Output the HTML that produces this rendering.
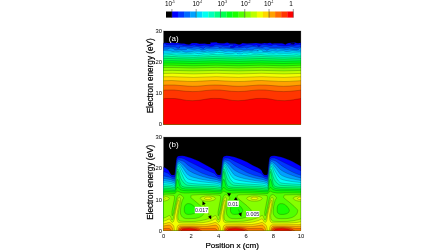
<!DOCTYPE html>
<html><head><meta charset="utf-8"><title>Electron energy distribution</title>
<style>
html,body{margin:0;padding:0;background:#fff;}
body{width:448px;height:252px;overflow:hidden;}
svg{display:block;font-family:"Liberation Sans",sans-serif;}
</style></head><body>
<svg width="448" height="252" viewBox="0 0 448 252">
<rect width="448" height="252" fill="#fff"/>
<rect x="166.0" y="11.5" width="6.00" height="6.1" fill="#000"/>
<rect x="171.90" y="11.5" width="6.17" height="6.1" fill="#0000ff"/>
<rect x="177.97" y="11.5" width="6.17" height="6.1" fill="#0036ff"/>
<rect x="184.04" y="11.5" width="6.17" height="6.1" fill="#006bff"/>
<rect x="190.11" y="11.5" width="6.17" height="6.1" fill="#00a1ff"/>
<rect x="196.18" y="11.5" width="6.17" height="6.1" fill="#00d7ff"/>
<rect x="202.25" y="11.5" width="6.17" height="6.1" fill="#00fff2"/>
<rect x="208.32" y="11.5" width="6.17" height="6.1" fill="#00ffbc"/>
<rect x="214.39" y="11.5" width="6.17" height="6.1" fill="#00ff86"/>
<rect x="220.46" y="11.5" width="6.17" height="6.1" fill="#00ff51"/>
<rect x="226.53" y="11.5" width="6.17" height="6.1" fill="#00ff1b"/>
<rect x="232.60" y="11.5" width="6.17" height="6.1" fill="#1bff00"/>
<rect x="238.67" y="11.5" width="6.17" height="6.1" fill="#51ff00"/>
<rect x="244.74" y="11.5" width="6.17" height="6.1" fill="#86ff00"/>
<rect x="250.81" y="11.5" width="6.17" height="6.1" fill="#bcff00"/>
<rect x="256.88" y="11.5" width="6.17" height="6.1" fill="#f2ff00"/>
<rect x="262.95" y="11.5" width="6.17" height="6.1" fill="#ffd700"/>
<rect x="269.02" y="11.5" width="6.17" height="6.1" fill="#ffa100"/>
<rect x="275.09" y="11.5" width="6.17" height="6.1" fill="#ff6b00"/>
<rect x="281.16" y="11.5" width="6.17" height="6.1" fill="#ff3600"/>
<rect x="287.23" y="11.5" width="6.17" height="6.1" fill="#ff0000"/>
<line x1="171.90" y1="9" x2="171.90" y2="17.6" stroke="#333" stroke-width="0.5"/>
<line x1="196.18" y1="9" x2="196.18" y2="17.6" stroke="#333" stroke-width="0.5"/>
<line x1="220.46" y1="9" x2="220.46" y2="17.6" stroke="#333" stroke-width="0.5"/>
<line x1="244.74" y1="9" x2="244.74" y2="17.6" stroke="#333" stroke-width="0.5"/>
<line x1="269.02" y1="9" x2="269.02" y2="17.6" stroke="#333" stroke-width="0.5"/>
<line x1="293.30" y1="9" x2="293.30" y2="17.6" stroke="#333" stroke-width="0.5"/>
<clipPath id="ca"><rect x="163.6" y="31.0" width="137.3" height="93.3"/></clipPath>
<rect x="163.6" y="31.0" width="137.3" height="93.3" fill="#000"/>
<g clip-path="url(#ca)" stroke="rgba(0,0,0,0.55)" stroke-width="0.40" stroke-linejoin="round" fill-rule="evenodd">
<path fill="#0000ff" d="M210.7 42.5L216.1 42.2L216.6 42.3L217.8 43L220.6 43.3L224.1 43.3L227.2 42.5L230.1 43.6L235.1 43.6L237.6 44.2L239.1 44.4L241.1 44L241.6 43.5L242.6 43.1L247.1 43.5L256.1 42.9L261.1 43.5L264.6 43L267.1 43.2L270.1 42.7L272.1 43.6L274.6 43.2L279.1 43.3L281.6 43.2L283.1 43.5L285.1 44.4L285.6 44.4L286.9 43.5L288.6 43L294.6 42.5L295.1 42.5L296.6 43.1L298.1 43.3L301.6 42.7L301.6 125L162.6 125L162.6 43.1L165.6 42.8L170.1 43.2L171.6 42.5L174.1 43L178.1 42.9L181.1 43.4L184.1 43.4L186.6 44.3L188.6 44.5L190.1 44.3L190.5 44L190.6 43.5L192.1 43L196.6 43.1L199.6 43.7L204.6 43.4L207.1 44.1L209.6 44.1L210.4 44L210.5 43.5L210 43L210.6 42.6Z M291.6 43.5L291.1 43.5L290.5 44L293.1 44.3L294.6 44L294.5 43.5L293.6 43.3L292.1 43.5Z"/>
<path fill="#0036ff" d="M162.6 44L162.6 43.7L164.6 43.6L165.9 44L166.1 44.4L166.6 44.7L170.1 45L173.1 44.8L175.1 45.1L176.9 44.5L178.6 44.5L179.6 44.7L181.6 44.8L183.2 45.5L184.6 45.6L191.1 45.6L194.6 44.9L196.1 45.5L200.1 45.9L204.1 45.3L206.1 45.2L208.1 45.5L209.1 46L210.6 46.3L212.8 46L214.6 45L216.1 44.6L220.6 44.9L224.1 45.6L227.8 45.5L228.6 45.3L229.8 44.5L232.1 44.4L233.4 44.5L234.1 45L233.1 45.8L231.1 46.2L230.5 46.5L230.2 47L230.6 47.5L232.1 47.6L233.1 47.5L234.4 47L235.7 46L236.6 45.7L237.6 45.6L238.5 46L238.7 46.5L240.1 46.6L243.1 45.7L248.1 44.7L250.6 44.7L253.6 45.5L256.7 45L258.4 45.5L257.6 46L258.6 46.5L260.2 46L259.8 45.5L263.1 44.6L267.1 45L270.6 45.6L271.6 45.5L273.7 44.5L275.1 44.4L276.1 44.5L277.6 45.2L283.6 46L286.1 45.9L290.6 45.3L294.1 45.4L298.1 44.5L301.6 44.9L301.6 125L162.6 125L162.6 44.5Z"/>
<path fill="#006bff" d="M215.9 46.5L217.1 46.3L218 46.5L218.7 47L219 47.5L220.1 47.8L222.6 47.1L229.6 48.1L232.6 48.2L236.1 48L241.1 48L244.1 47.2L245.1 47.3L246.6 48.1L247.1 48L248.1 47.5L251.6 46.7L252.6 46.6L254.6 46.7L257.1 47.3L260.1 47.3L262.6 47.6L264.1 46.8L265.6 46.5L267.1 46.7L270.1 47.6L275.6 47.7L278.1 47.4L281.6 47.4L284.6 47.9L286.6 47.5L288.6 47.5L291.1 46.7L292.1 46.7L294.1 47.3L295.6 47.4L297.1 47.8L300.1 46.9L301.6 46.7L301.6 125L162.6 125L162.6 47.4L165.1 46.9L170.1 46.7L175.1 47L176.1 47.3L177.1 48L178.1 48.2L179.6 48L179.5 47.5L179 47L179.6 46.8L182.1 46.9L184.6 46.6L186.1 47.1L191.6 47.7L193.6 47.1L197.1 46.7L198.6 47L203.1 48.4L203.6 48.4L204.2 48L204.6 47.4L205.6 47L209.1 47.4L213.6 47L215.6 46.6Z"/>
<path fill="#00a1ff" d="M300 48L301.6 47.7L301.6 125L162.6 125L162.6 49.3L167.6 49.2L169.6 48.2L170.6 48L173.1 48.4L174.3 49.5L176.1 49.8L179.1 49.4L182.6 49.7L185.1 49.7L186.4 49.5L187 49L187.2 48.5L187.6 48.4L190.6 49.1L192.1 49.3L195.1 49.3L197.1 48.8L198.6 48.8L199.7 49L201.6 49.9L202.6 50L204.1 49.7L206.6 48.8L212.6 49.1L216.1 49L218.1 48.6L223.6 49L226.1 48.7L231.1 48.9L234.1 49.4L235.8 50L237.1 50.1L240.1 49.5L241.1 49.5L243.6 50.1L245.1 50.1L248.6 49.5L250.2 50L251.6 50.1L252.4 50L253.4 49.5L253.6 49L255.6 48.9L258.6 48.4L261.1 49L264.6 49.2L265.5 49.5L266.1 50.1L267.1 50.3L267.9 50L268.2 49.5L268.6 49.3L270.6 48.8L273.1 48.7L275.6 49.2L276.6 49L277.4 48.5L278.1 48.4L280.6 49L283.6 49.2L286.6 49.6L289.6 49.1L296.6 49.9L298.6 49.5L299.6 48.3Z"/>
<path fill="#00d7ff" d="M259.9 50L261.6 50.1L262.2 50.5L262.6 51.3L263.1 51.5L269.1 51.5L272.6 50.8L277.1 51.3L283.1 50.8L285.6 51.4L286.6 51.5L289.6 51.3L292.1 50.8L298.6 51.3L301.6 51.1L301.6 125L162.6 125L162.6 50.4L167.1 50.9L170.1 50.9L173.1 51.6L175.1 51.2L178.1 51.4L181.6 51L184.7 52L186.1 52.2L190.6 51.8L194.1 51.1L199.6 51.2L203.1 51.6L204.7 51.5L207.1 50.9L209.6 51.3L211.6 51.3L215.2 51L219.6 50.2L225.1 51.4L228.1 51.1L232.1 51.2L239.6 51.9L243.6 51.2L248.1 51.1L251.6 51.3L255.6 50.8L258.1 51.1L258.3 51L257.5 50.5L259.6 50Z"/>
<path fill="#00fff2" d="M216.1 52.5L217.6 52.3L220.1 52.7L222.6 52.7L225.1 53.4L230.1 53.7L232.1 53.6L234.9 53L236.1 52.9L236.6 53L237 53.5L237.6 53.7L240.1 53.9L241.6 53.8L243.6 53L247.1 53.2L250.6 52.5L253.1 53.1L254.6 53.2L266.1 52.8L268.6 53.2L271.1 53.1L273.1 53.3L276.1 52.9L278.6 53.2L286.1 53.3L290.6 53.2L293.1 52.9L299.6 53.1L301.6 52.9L301.6 125L162.6 125L162.6 53.1L165.1 53.3L169.6 53.3L173.1 53L176.6 52.9L184.1 53.4L187.6 53.3L190.6 53.4L194.6 53L198.6 53.7L205.6 52.7L211.1 53.2L214 53L215.6 52.6Z"/>
<path fill="#00ffbc" d="M213 54.5L217.1 54.8L221.6 54.7L229.1 55.2L233.6 55.2L238.6 55.7L242.6 55.4L245.6 55.5L247.6 55.1L250.1 55.1L253.1 54.7L256.6 54.8L260.6 54.5L267.6 55.2L273.6 55L277.1 55.3L280.1 55.1L284.1 55.5L293.6 55L296.6 54.7L299.6 55.1L301.6 55L301.6 125L162.6 125L162.6 54.9L166.1 55L171.6 54.5L176.1 55L180.1 54.9L185.1 55.1L191.1 55.1L197.6 55.6L199.6 55.4L203.1 54.8L208.6 55L212.6 54.5Z"/>
<path fill="#00ff86" d="M162.6 57L162.6 56.7L173.6 56.5L178.6 56.9L193.6 57.3L213.1 56.6L238.6 57.2L261.6 56.6L283.1 57.2L301.6 56.7L301.6 125L162.6 125L162.6 57.5Z"/>
<path fill="#00ff51" d="M162.6 59L162.6 58.7L168.6 58.5L192.6 59.1L215.6 58.5L239.1 59.1L261.1 58.5L284.1 59.1L301.6 58.6L301.6 125L162.6 125L162.6 59.5Z"/>
<path fill="#00ff1b" d="M162.6 61L162.6 60.9L164.1 60.8L171.6 60.7L193.6 61.3L216.1 60.7L238.6 61.3L261.6 60.7L284.1 61.3L301.6 60.8L301.6 125L162.6 125L162.6 61.5Z"/>
<path fill="#1bff00" d="M165.8 63L173.6 63L192.6 63.5L214.6 63L238.1 63.5L259.6 63L283.6 63.5L301.6 63L301.6 125L162.6 125L162.6 63.1L165.6 63Z"/>
<path fill="#51ff00" d="M162.6 65.5L162.6 65.3L171.6 65.2L193.6 65.8L216.1 65.2L238.6 65.8L261.6 65.2L284.1 65.8L301.6 65.2L301.6 125L162.6 125L162.6 66Z"/>
<path fill="#86ff00" d="M163.9 67.5L174.1 67.5L193.1 68L217.1 67.4L238.6 68L262.1 67.4L283.6 68L301.6 67.5L301.6 125L162.6 125L162.6 67.6L163.6 67.5Z"/>
<path fill="#bcff00" d="M162.6 70.5L172.6 70.4L193.1 70.9L216.6 70.4L238.6 70.9L261.6 70.4L284.1 70.9L301.6 70.4L301.6 125L162.6 125L162.6 71Z"/>
<path fill="#f2ff00" d="M162.6 73.5L172.6 73.3L193.6 73.9L216.6 73.3L238.6 73.9L261.6 73.3L284.1 73.9L301.6 73.4L301.6 125L162.6 125L162.6 74Z"/>
<path fill="#ffd700" d="M162.6 77L162.6 76.8L163.6 76.8L171.6 76.7L193.6 77.4L216.1 76.7L238.6 77.4L261.6 76.7L284.1 77.4L301.6 76.7L301.6 125L162.6 125L162.6 77.5Z"/>
<path fill="#ffa100" d="M162.6 81L162.6 80.8L163.6 80.7L171.6 80.5L187.6 81.4L193.6 81.5L210.6 80.6L216.1 80.5L233.1 81.4L238.6 81.5L244.1 81.4L256.1 80.6L261.6 80.5L278.6 81.4L284.1 81.5L289.6 81.4L301.6 80.6L301.6 125L162.6 125L162.6 81.5Z"/>
<path fill="#ff6b00" d="M166.9 85L174.1 85L187.6 86.1L192.6 86.3L197.6 86.2L209.1 85.2L214.6 85L220.1 85.1L233.1 86.1L238.1 86.3L243.1 86.2L259.1 85L265.6 85.1L278.6 86.1L283.6 86.3L289.1 86.1L301.6 85.1L301.6 125L162.6 125L162.6 85.3L166.6 85Z"/>
<path fill="#ff3600" d="M165.8 90L174.2 90L186.1 91.3L192.6 91.6L198.6 91.4L205.9 90.5L214.1 89.9L219.7 90L231.6 91.3L238.1 91.6L244.6 91.3L251.4 90.5L258.6 89.9L265.2 90L277.1 91.3L283.6 91.6L290.1 91.3L301.6 90.1L301.6 125L162.6 125L162.6 90.3L165.6 90Z"/>
<path fill="#ff0000" d="M165.3 98.5L174.7 98.5L178.7 99L186.6 100.4L192.6 100.7L199.1 100.3L206.8 99L210.8 98.5L213.6 98.4L220.2 98.5L224.2 99L232.1 100.4L238.1 100.7L244.6 100.3L246 100L248.1 99.8L249.1 99.5L256.3 98.5L261.1 98.4L265.7 98.5L269.7 99L277.6 100.4L284.6 100.7L290.1 100.3L291.5 100L293.6 99.8L294.6 99.5L301.6 98.5L301.6 125L162.6 125L162.6 98.9L165.1 98.5Z"/>
</g>
<rect x="163.6" y="31.0" width="137.3" height="93.3" fill="none" stroke="rgba(0,0,0,0.45)" stroke-width="0.5"/>
<clipPath id="cb"><rect x="163.6" y="137.1" width="137.3" height="93.4"/></clipPath>
<rect x="163.6" y="137.1" width="137.3" height="93.4" fill="#000"/>
<g clip-path="url(#cb)" stroke="rgba(0,0,0,0.55)" stroke-width="0.40" stroke-linejoin="round" fill-rule="evenodd">
<path fill="#0000ff" d="M178.8 156.1L182.1 155.8L184.5 156.1L191.2 158.1L198.6 161.1L213.6 169.2L214.6 170L216.1 172.9L217.1 174.3L217.6 174.8L218.6 175.1L220.1 175.1L220.6 174.6L220.7 174.1L221.3 170.6L222.1 161.8L222.6 158.5L223.1 157.3L224.1 156.3L226.6 155.8L229.6 155.9L234.5 157.1L241.5 159.6L247.1 162.1L253.1 165.5L257.5 167.6L260.1 169.1L261.1 169.9L261.6 170.6L262.6 172.7L263.6 174.2L264.1 174.7L265.1 175.1L266.6 175.1L267.1 174.8L267.6 173.5L269.1 159.5L269.6 157.7L270.1 156.9L270.6 156.4L271.6 156.1L274.1 155.8L276.1 155.9L281.1 157.1L284.1 158.1L289.3 160.1L292.6 161.6L301.6 166.5L301.6 231.1L162.6 231.1L162.6 166.6L165.7 168.1L168.1 169.7L168.6 170.2L170.4 173.6L171.6 174.9L172.6 175.1L174.1 175L174.6 174.4L174.9 172.6L176.1 160.9L176.6 158.1L177.6 156.6L178.6 156.1Z"/>
<path fill="#0036ff" d="M178.4 158.1L179.6 158L181.6 158.1L184.1 158.8L188.6 161.3L205.1 169.4L214.1 173.2L215.1 174L216.1 175.2L217.6 176.4L219.6 177L220.1 177L220.6 176.6L221.1 174.9L222.6 161.1L223.6 158.8L224.1 158.3L225.1 158L228.1 158.1L230.1 158.7L234.6 161.2L251.6 169.5L260.6 173.2L261.6 173.8L262.7 175.1L264.1 176.3L266.1 177L266.6 177.1L267.1 176.8L267.6 175.8L268.1 172.8L269.1 162.2L269.6 160.1L270.6 158.4L271.6 158L274.6 158.1L276.6 158.7L285.6 163.3L298.4 169.6L301.6 170.9L301.6 231.1L162.6 231.1L162.6 171.1L168.1 173.3L169.1 174.1L170.4 175.6L171.6 176.5L173.1 177L174.1 177L174.6 176.4L175.1 174.3L176.1 163.8L176.6 160.6L177.3 159.1L178.1 158.2Z"/>
<path fill="#006bff" d="M178.1 160.1L178.6 159.9L179.6 160L183.1 161.1L184.6 162.1L188.1 165.2L190.6 166.9L196 170.1L201.9 173.1L208.8 175.6L216.1 177.4L219.6 179L220.1 179L220.6 178.6L221.1 177.3L221.6 173.9L222.4 165.6L222.9 162.6L223.5 161.1L224.1 160.2L225.1 159.9L228.1 160.6L229.6 161.3L234.1 165L236.1 166.4L240.6 169.1L247.2 172.6L253.7 175.1L263.1 177.5L266.1 178.9L266.6 179L267.1 178.8L267.6 178L268.1 175.7L269.1 165.3L269.5 163.1L269.9 161.6L270.6 160.4L271.1 160L271.6 159.9L273.6 160.3L276.1 161.2L282.1 166L287.1 169.1L291.7 171.6L296.1 173.6L301.6 175.5L301.6 231.1L162.6 231.1L162.6 175.6L169.6 177.3L173.1 178.9L174.1 178.9L174.6 178.4L175.1 176.9L176.5 164.1L176.9 162.1L177.6 160.6Z"/>
<path fill="#00a1ff" d="M178.5 161.6L179.1 161.6L180 162.1L182.6 164.1L188.1 170L190.1 171.3L193.1 172.9L198.4 175.1L202.9 176.6L210.1 178.4L216.6 179.6L219.6 180.8L220.1 180.8L220.6 180.5L221.1 179.5L221.6 176.5L222.8 165.6L223.6 162.8L224.1 161.9L224.6 161.6L225.1 161.6L226.2 162.1L229.1 164.4L233.1 168.9L234.6 170.2L239.1 172.7L244.6 175L249.1 176.5L256.1 178.3L263.1 179.6L266.1 180.7L267.1 180.6L267.6 180L268.1 178.1L269.1 168.1L269.6 165L270.6 162.2L271.1 161.7L271.6 161.6L272.8 162.1L275.4 164.1L280.6 169.7L283.5 171.6L287.6 173.6L292.8 175.6L297.1 177L301.6 178.1L301.6 231.1L162.6 231.1L162.6 178.2L170.6 179.6L173.6 180.8L174.1 180.7L174.6 180.3L175.1 179.1L176.6 165.9L177.2 163.6L178.1 161.8Z"/>
<path fill="#00d7ff" d="M178 163.6L178.6 163.2L179.1 163.3L180 164.1L183.1 168.2L186.6 173.3L188.4 175.1L190.2 176.1L192.7 177.1L200.1 179L208.8 180.6L216.6 181.6L219.6 182.5L220.6 182.3L221.1 181.5L221.6 178.6L222.4 170.6L222.9 167.1L223.6 164.7L224.1 163.6L224.6 163.2L225.1 163.3L225.6 163.6L226.6 164.6L233.6 174.2L234.6 175.1L236.5 176.1L239.1 177.1L244.5 178.6L255.3 180.6L263.1 181.6L266.6 182.6L267.1 182.5L267.6 182L268.1 180.3L269.2 169.6L270 165.6L270.6 163.9L271.1 163.3L271.6 163.2L272.1 163.4L273.2 164.6L275.9 168.1L279.6 173.4L280.6 174.6L282.1 175.6L285.6 177.1L289 178.1L293.4 179.1L301.6 180.6L301.6 231.1L162.6 231.1L162.6 180.6L170.1 181.5L173.6 182.5L174.1 182.5L174.6 182.2L175.1 181.2L175.3 180.1L176.6 168.1L177.1 165.8L177.7 164.1Z"/>
<path fill="#00fff2" d="M178 165.1L178.6 164.7L179.1 165L179.6 165.6L183.6 173.5L186.6 177.8L187.6 178.7L188.6 179.2L192.6 180.4L201.1 181.7L216.1 183.3L219.6 184.3L220.6 184.2L221.1 183.5L221.6 180.7L222.8 169.6L223.6 166.3L224.1 165.1L224.6 164.7L225.1 164.9L225.7 165.6L228.1 170.4L231.1 175.5L233.1 178L234.6 179.1L238.1 180.2L243.1 181.1L251.6 182.2L263.1 183.3L266.6 184.3L267.1 184.2L267.6 183.9L268.1 182.1L269.1 172.1L269.6 168.8L270.6 165.5L271.1 164.8L271.6 164.8L272.7 166.1L274.6 170.1L277.1 174.5L279.1 177.4L280.6 178.8L283.1 179.8L287.1 180.7L292.6 181.6L301.6 182.6L301.6 231.1L162.6 231.1L162.6 182.6L170.6 183.4L173.6 184.3L174.6 184.1L175.1 183.1L175.4 181.1L176.6 169.7L177.1 167.5L177.8 165.6Z"/>
<path fill="#00ffbc" d="M178.1 166.6L178.6 166.4L179.1 167L181.4 173.1L184.1 179L185.6 181.1L186.6 182.2L187.2 182.6L188.6 183L192.1 183.5L198.1 184L215.1 184.9L217.1 185.2L219.6 186L220.6 185.9L221.1 185.3L221.6 183L222.5 172.6L222.9 170.1L223.6 167.8L224.1 166.8L224.6 166.4L225.1 166.7L225.6 167.7L227.8 173.6L230.1 178.7L232.1 181.4L233.6 182.7L235.2 183.1L239.1 183.6L262.6 185L266.6 186L267.6 185.7L268.1 184.2L269 174.6L269.8 169.6L270.6 167.1L271.1 166.4L271.6 166.5L272.6 168.5L274.4 173.6L276.6 178.4L278.5 181.1L280.1 182.6L281.8 183.1L285.6 183.6L301.6 184.5L301.6 231.1L162.6 231.1L162.6 184.6L170.1 185.1L173.6 186L174.6 185.9L175.1 185L175.6 182.1L176.7 170.6L177.1 169L178.1 166.6Z"/>
<path fill="#00ff86" d="M177.9 169.1L178.1 169.1L178.6 170.1L180.1 176L181 178.6L181.8 180.1L184.1 183.1L186.1 184.6L187.6 185.2L193.1 185.7L214.1 186.6L217.1 186.9L219.6 187.5L220.6 187.5L221.1 187L221.6 185.1L222.6 173.9L223 171.1L223.6 169.3L224.1 169L224.7 170.1L226.6 177.1L227.7 179.6L230.1 182.9L231.6 184.1L233.1 185L235.1 185.4L238.6 185.6L261.6 186.7L263.6 186.9L266.6 187.6L267.6 187.4L268.1 186.3L269.6 172.1L270.1 169.7L270.6 169L271.1 169.3L271.4 170.1L273.1 176.6L274.3 179.6L276.6 182.7L279.1 184.7L280.6 185.2L283.6 185.5L301.6 186.3L301.6 231.1L162.6 231.1L162.6 186.3L170.1 186.8L173.6 187.6L174.6 187.5L175.1 186.8L175.6 184.2L176.6 173L177.1 170.2L177.6 169.1Z"/>
<path fill="#00ff51" d="M177.5 171.6L177.6 171.2L178.1 172.5L179.6 180.5L180.6 184.2L181.6 185.9L182.1 186.4L184.6 187.1L189.1 187.5L212.1 188.3L220.6 189.1L221.1 188.7L221.8 186.1L223.1 173.3L223.6 171.3L224.1 172L226.1 182.1L226.6 183.8L227.6 185.7L228.6 186.5L230.9 187.1L234.1 187.4L258.1 188.2L263.1 188.6L267.1 189.1L267.6 189L268.1 188.1L269.6 174.5L270.1 171.9L270.6 171.5L271.1 173.2L273.1 183.3L274.1 185.5L275.1 186.4L277.5 187.1L281.1 187.5L301.6 188.1L301.6 231.1L162.6 231.1L162.6 188.1L170.1 188.5L174.1 189.1L174.6 189.1L175.1 188.6L175.8 184.6L176.6 176.4L177.1 172.7L177.4 172.1Z"/>
<path fill="#00ff1b" d="M177.2 179.6L177.6 179.2L178.1 180L179.7 185.6L180.2 186.6L180.9 187.6L182.1 188.4L185.6 188.9L209.6 189.7L220.6 190.5L221.1 190.3L221.6 189.1L222.6 182.1L223.1 180L223.6 179.2L224.1 179.7L224.6 181L225.7 185.1L226.3 186.6L227.6 188L228.6 188.5L233.6 189L255.1 189.6L267.6 190.5L268.1 190L268.4 189.1L269.1 183.4L269.6 180.6L270.1 179.4L270.6 179.4L271.1 180.5L272.4 185.1L273 186.6L274.1 187.9L275.1 188.4L277.1 188.8L280.6 189.1L301.6 189.6L301.6 231.1L162.6 231.1L162.6 189.7L169.6 190L174.1 190.5L174.6 190.5L175.1 190.2L175.7 188.1L176.6 181.5L177.1 179.7Z"/>
<path fill="#1bff00" d="M177.2 187.6L177.6 187.4L178.1 187.5L180.1 189.7L181.6 190.1L183.6 190.5L188.1 190.8L192.6 190.7L206.6 191.1L220.6 191.9L221.1 191.8L221.6 191.3L222.6 188.3L223.1 187.7L223.6 187.5L224.1 187.5L224.6 187.8L225.6 189.1L226.6 189.8L229.1 190.4L232.6 190.7L252.8 191.1L267.6 191.9L268.1 191.6L268.4 191.1L269.1 188.8L269.6 187.9L270.6 187.4L271.1 187.6L272.8 189.6L276.1 190.5L281.1 190.8L287.1 190.7L301.6 191.2L301.6 231.1L162.6 231.1L162.6 191.2L174.6 191.9L175.1 191.8L175.6 191.1L176.6 188.1L177.1 187.6Z"/>
<path fill="#51ff00" d="M176.5 191.6L177.1 191.2L178.1 191.3L180.1 192.3L182.6 192.8L184.6 193L188.6 193L191.6 192.7L197.6 192.7L220.6 193.5L221.6 193.1L222.6 191.6L223.6 191.2L224.1 191.2L226.1 192.3L228.6 192.8L230.6 193L234.6 193L238.1 192.7L244.1 192.7L267.1 193.5L268.1 193.3L269.6 191.4L270.6 191.2L272.6 192.2L277.1 193L281.1 193L284.1 192.7L286.1 192.7L301.6 193L301.6 231.1L162.6 231.1L162.6 193L174.6 193.5L175.1 193.4L175.5 193.1L176.2 192.1Z M188.6 203.6L187.1 203.7L185.6 204.7L184.6 206.5L184.2 208.6L184.4 211.6L185.1 213.1L186.4 214.1L188.1 214.4L191.6 214.2L194.1 213.5L195.1 213L195.9 212.1L196.5 210.6L196.3 209.6L195.5 208.1L193.4 205.6L191.1 204.1L190.1 203.8L188.6 203.6Z M234.6 203.6L233.6 203.7L232.6 204.1L231.5 205.1L230.7 207.1L230.4 209.6L230.6 211.6L231.3 213.1L232.6 214.1L234.6 214.4L238.1 214.2L240.3 213.6L241.3 213.1L242.1 212.3L242.6 211.6L242.8 210.6L242.7 209.6L241.8 208.1L240.7 206.6L239.6 205.5L238.4 204.6L237.1 204L234.7 203.6Z M279.6 203.9L278.6 204.5L278.1 205.1L277.6 206.1L277.2 207.6L277.2 211.1L277.4 212.1L277.9 213.1L279.1 214L280.6 214.4L283.6 214.4L286.1 213.9L287.8 213.1L288.6 212.4L289.1 211.6L289.4 210.1L288.7 208.6L286.8 206.1L284.6 204.4L282.6 203.7L280.1 203.7Z"/>
<path fill="#86ff00" d="M162.6 194.6L173.1 195.3L174.1 195.6L174.4 196.1L174.6 198.1L171.9 211.6L171.9 214.6L172.1 215.8L172.6 215.5L173.6 212.6L176.4 199.6L177.4 196.6L178.1 195.4L179.1 194.7L180.6 194.8L181.9 195.6L183.6 197.6L183.7 198.1L182.6 199.7L182.1 200.9L181.1 204.8L180.4 210.6L180.4 212.6L180.6 214.1L181.6 216.2L182.6 217.2L183.6 217.9L185.6 218.6L188.6 218.7L195.1 218.4L198.1 217.8L200.1 217L201.7 216.1L203.3 214.6L204.2 213.1L204.7 211.1L204.7 210.1L204.3 209.6L201.4 206.6L198.1 203.6L190.8 197.6L191.1 195.6L191.6 195.1L199.8 194.6L207.6 194.5L218.6 195.2L220.2 195.6L220.6 196.6L220.7 198.1L218 212.1L218.1 215.6L218.6 215.7L220.1 211L222.4 200.1L223.3 197.1L224.1 195.5L225.1 194.8L226.1 194.7L227.4 195.1L229.8 197.6L229.9 198.1L228.6 200L227.6 203.1L227.1 205.5L226.5 211.6L226.6 213.1L226.9 214.6L228.1 216.6L229.1 217.5L230.1 218.1L232.1 218.6L235.6 218.7L239.8 218.6L242.1 218.3L245.1 217.6L247.1 216.7L248.8 215.6L250.1 214.1L250.8 212.6L251.2 210.6L251.1 210.1L250.8 209.6L246.8 205.6L237.5 198.1L237.1 197.6L237 197.1L237.4 195.6L237.8 195.1L240.1 194.8L254.1 194.5L265.1 195.2L266.9 195.6L267.3 196.6L267.4 198.1L264.7 212.1L264.7 214.6L265.1 215.9L265.6 215L266.6 211.9L268.8 201.1L269.7 197.6L270.4 196.1L271.1 195.2L272.1 194.7L273.1 194.7L274.1 195.1L274.7 195.6L276.5 197.6L276.5 198.1L275.6 199.4L275.1 200.4L274.1 203.9L273.6 206.6L273.1 211.6L273.2 213.1L273.6 214.6L274.8 216.6L276.6 218L278.6 218.6L281.6 218.7L286.1 218.6L288.1 218.4L291.1 217.8L293.1 217L294.6 216.1L296.3 214.6L297.2 213.1L297.7 211.1L297.7 210.1L297.3 209.6L294.4 206.6L290.4 203.1L284.1 198.1L283.7 197.6L283.6 197.1L284.1 195.4L284.6 195L286.1 194.9L301.6 194.5L301.6 231.1L162.6 231.1L162.6 195.1Z"/>
<path fill="#bcff00" d="M162.6 196.1L162.6 196L164.6 196.2L167.1 196.8L168.8 197.6L169.3 198.1L169.4 198.6L168.6 199.6L167.1 200.4L165.1 200.9L162.6 201.2L162.6 196.6Z M205.4 196.1L208.1 195.9L211.1 196.2L213.1 196.7L215 197.6L215.5 198.1L215.5 198.6L214.8 199.6L213.1 200.4L210.6 201L208.1 201.2L205.1 201L202.6 200.4L201.1 199.6L200.3 198.6L200.3 198.1L200.6 197.6L202.6 196.7L205.1 196.1Z M251.8 196.1L254.6 195.9L257.6 196.2L259.6 196.7L261.6 197.6L262.1 198.1L262.2 198.6L261.4 199.6L259.6 200.5L257.1 201L254.6 201.2L251.6 201L249.1 200.4L247.6 199.6L246.8 198.6L246.7 198.1L247.1 197.6L249.1 196.7L251.6 196.1Z M298.4 196.1L301.6 196L301.6 201.2L298.6 201.1L296.6 200.7L295 200.1L293.6 199.1L293.3 198.6L293.3 198.1L293.6 197.6L295.6 196.7L298.1 196.1Z M178.6 197.6L179.1 197.3L179.6 197.3L180 197.6L180.4 198.6L180.5 199.6L180.3 201.6L177.9 215.1L177.9 217.6L178.1 218.9L178.6 220L179.1 220.6L179.9 221.1L184.6 221.4L191.1 221.5L195.1 221.4L198.6 221L203.5 220.1L207.3 219.1L211.3 217.6L214.6 215.8L215.6 215.6L216.1 215.8L216.6 216.6L217.6 219.3L218.1 220L218.6 220L219.1 219.4L219.5 218.1L219.9 215.6L220.7 212.6L223.4 200.1L224.1 198.4L224.6 197.7L225.1 197.3L225.6 197.2L226.1 197.5L226.4 198.1L226.6 199.6L226.3 202.1L223.9 215.6L224 218.1L224.6 219.8L225.6 220.9L226.6 221.2L231.1 221.5L237.1 221.5L243.6 221.2L251.1 219.8L256.7 218.1L259.1 217.1L261.1 215.9L262.1 215.5L262.6 215.6L263.1 216.2L264.6 219.8L265.1 220.1L265.6 219.7L266.2 218.1L266.6 215.6L267.4 212.6L270 200.6L271 198.1L271.6 197.4L272.1 197.2L272.6 197.4L273.1 198L273.3 199.6L272.9 202.6L270.6 215.6L270.8 218.6L271.6 220.2L272.6 221.1L274.1 221.3L279.6 221.5L287.6 221.4L294 220.6L298.6 219.6L301.6 218.7L301.6 231.1L162.6 231.1L162.6 218.5L166.1 217.2L168.6 215.8L169.6 215.6L170.1 215.9L170.6 216.8L171.6 219.5L172.1 220L172.6 219.9L173.1 219.1L173.4 218.1L173.8 215.6L174.6 212.6L177.1 201.1L178.2 198.1Z"/>
<path fill="#f2ff00" d="M162.6 197.6L162.6 197.2L164.5 197.6L165.2 198.1L165.2 198.6L164.6 199.1L162.6 199.6L162.6 198.1Z M205.1 197.6L207.1 197.2L209.6 197.3L210.7 197.6L211.4 198.1L211.4 198.6L211.1 198.8L209.6 199.5L207.1 199.6L205.1 199.1L204.5 198.6L204.6 198Z M251.6 197.6L253.6 197.2L256.1 197.3L257.2 197.6L257.9 198.1L257.9 198.6L257.6 198.9L257.1 199.2L255.6 199.6L253.1 199.5L251.6 199.1L251.1 198.7L250.9 198.1L251.1 198Z M298.1 197.6L299.6 197.2L301.6 197.2L301.6 199.6L299.6 199.5L298.1 199.1L297.5 198.6L297.5 198.1L297.6 198Z M178.4 200.6L178.6 200.2L179.1 200.5L179.1 202.4L176.8 215.1L176.7 216.6L176.9 219.1L177.3 220.6L178.1 222.1L179.1 222.7L182.6 223L194.1 223.1L203.6 222.5L206.6 222L210.2 221.1L212.6 220.3L215.1 218.9L215.6 219L216.1 219.4L217.1 221.2L217.9 222.1L218.6 222.3L219.1 222.1L219.8 221.1L220.3 219.6L220.9 215.6L223.6 202.8L224.1 201.2L224.6 200.3L225.1 200.3L225.2 201.1L225.1 203.1L222.8 215.6L223 219.1L223.4 220.6L223.8 221.6L224.6 222.4L226.1 222.9L239.6 223.1L246.1 222.8L252.6 222.1L258.3 220.6L261.1 219.1L262.1 218.9L262.6 219.2L264.1 221.6L264.6 222.1L265.1 222.3L265.6 222.3L266.2 221.6L266.9 220.1L267.5 215.6L270.1 203.7L271.1 200.6L271.6 200.1L271.9 201.1L271.8 203.1L269.5 215.6L269.8 219.6L270.3 221.1L270.9 222.1L272.1 222.8L273.6 223L287.6 223.1L296.6 222.5L301.6 221.6L301.6 231.1L162.6 231.1L162.6 221.5L166.1 220.4L169.1 218.9L169.6 219L170.1 219.6L171.3 221.6L172.1 222.3L172.6 222.3L173.1 222L173.7 221.1L174.3 219.1L174.8 215.6L177.1 204.6L178.1 201Z"/>
<path fill="#ffd700" d="M168.3 222.6L169.1 222.4L170.1 222.7L173.1 225.1L173.9 226.6L174.6 231.1L162.6 231.1L162.6 224.1L166.1 223.3L168.1 222.6Z M214.4 222.6L215.1 222.4L216.1 222.7L219.2 225.1L220 226.6L220.8 231.1L176.4 231.1L176.9 228.1L177.5 226.1L178.1 225.3L179.1 224.9L181.1 224.7L205.1 224.6L211.1 223.6L214.1 222.7Z M261 222.6L262.1 222.4L262.6 222.6L266.1 225.3L266.8 227.1L267.5 231.1L222.5 231.1L222.9 228.6L223.6 226.1L224.1 225.4L225.1 224.9L227.1 224.7L251.6 224.6L257.7 223.6L260.6 222.7Z M298.6 224.6L301.6 224.2L301.6 231.1L269.2 231.1L269.8 227.6L270.3 226.1L271.1 225.2L272.1 224.8L298.6 224.6Z"/>
<path fill="#ffa100" d="M169.1 225.1L169.6 225.2L170.5 225.6L171.6 226.9L172.6 228.8L173.1 231.1L162.6 231.1L162.6 226.1L168.6 225.1Z M212.3 225.6L215.1 225.1L216.1 225.3L216.6 225.6L217.6 226.7L218.4 228.1L219.2 231.1L177.5 231.1L178.7 227.6L179.6 226.6L180.6 226.2L193.6 226.1L204.1 226.4L207.1 226.3L212.1 225.6Z M258.9 225.6L261.6 225.1L262.6 225.2L263.1 225.5L264.1 226.5L265.1 228.1L265.9 231.1L223.6 231.1L224.4 228.6L225.1 227.2L225.7 226.6L226.6 226.3L240.1 226.1L250.6 226.4L253.6 226.3L258.6 225.6Z M272.4 226.6L273.1 226.3L275.1 226.1L287.1 226.1L296.6 226.4L301.6 226.1L301.6 231.1L270.3 231.1L271.3 228.1L272.1 226.8Z"/>
<path fill="#ff6b00" d="M180.8 227.6L184.1 227.2L191.1 227.2L198.1 227.7L202.6 228.5L214.6 228.4L215.6 228.7L216.3 229.1L217.1 230L217.6 231.1L178.3 231.1L179.1 229L179.6 228.3L180.6 227.7Z M226.9 227.6L230.1 227.2L237.1 227.1L244.6 227.7L249.1 228.5L261.1 228.4L262.1 228.6L263.1 229.2L263.6 229.7L264.3 231.1L224.4 231.1L225.1 229.1L225.6 228.4L226.6 227.7Z M273.6 227.6L277.1 227.2L284.1 227.2L291.1 227.7L295.6 228.5L301.6 228.5L301.6 231.1L271.1 231.1L271.6 229.6L272.1 228.7L272.6 228.2L273.6 227.6Z M162.6 228.6L162.6 228.5L167.1 228.4L169.1 228.5L170.1 229L170.6 229.5L171.5 231.1L162.6 231.1L162.6 229.1Z"/>
<path fill="#ff3600" d="M183.7 228.1L189.6 227.8L195.6 228.4L198.7 229.1L202 231.1L179.3 231.1L179.5 230.1L180.3 229.1L181.6 228.5L183.6 228.1Z M229.9 228.1L236.1 227.8L242.1 228.4L245.1 229.1L248.4 231.1L225.4 231.1L225.6 230.1L226.6 229L227.6 228.5L229.6 228.1Z M276.5 228.1L282.6 227.8L288.6 228.4L291.7 229.1L295 231.1L272.1 231.1L272.3 230.1L273.1 229.1L274.1 228.6L276.1 228.2Z"/>
<path fill="#ff0000" d="M183.9 229.1L188.6 228.7L192.6 229L195.9 229.6L197.3 230.1L199 231.1L181 231.1L181.5 230.1L182.1 229.6L183.6 229.2Z M230.1 229.1L235.1 228.7L238.6 228.9L242.3 229.6L243.7 230.1L245.4 231.1L227.1 231.1L227.6 230.1L228.1 229.7L230.1 229.1Z M276.8 229.1L281.6 228.7L285.6 229L288.8 229.6L290.2 230.1L292 231.1L273.8 231.1L274.1 230.4L275 229.6L276.6 229.2Z"/>
</g>
<rect x="163.6" y="137.1" width="137.3" height="93.4" fill="none" stroke="rgba(0,0,0,0.45)" stroke-width="0.5"/>
<text x="165.0" y="5.8" font-size="6.4" text-anchor="start" fill="#000">10<tspan dx="-0.2" dy="-2.7" font-size="3.1">-5</tspan></text>
<text x="192.4" y="5.8" font-size="6.4" text-anchor="start" fill="#000">10<tspan dx="-0.2" dy="-2.7" font-size="3.1">-4</tspan></text>
<text x="217.4" y="5.8" font-size="6.4" text-anchor="start" fill="#000">10<tspan dx="-0.2" dy="-2.7" font-size="3.1">-3</tspan></text>
<text x="240.8" y="5.8" font-size="6.4" text-anchor="start" fill="#000">10<tspan dx="-0.2" dy="-2.7" font-size="3.1">-2</tspan></text>
<text x="263.9" y="5.8" font-size="6.4" text-anchor="start" fill="#000">10<tspan dx="-0.2" dy="-2.7" font-size="3.1">-1</tspan></text>
<text x="291.0" y="5.8" font-size="6.4" text-anchor="middle" fill="#000">1</text>
<text x="161.9" y="33.1" font-size="5.8" text-anchor="end" fill="#000">30</text>
<text x="161.9" y="64.2" font-size="5.8" text-anchor="end" fill="#000">20</text>
<text x="161.9" y="95.3" font-size="5.8" text-anchor="end" fill="#000">10</text>
<text x="161.9" y="126.4" font-size="5.8" text-anchor="end" fill="#000">0</text>
<text x="161.9" y="139.2" font-size="5.8" text-anchor="end" fill="#000">30</text>
<text x="161.9" y="170.3" font-size="5.8" text-anchor="end" fill="#000">20</text>
<text x="161.9" y="201.5" font-size="5.8" text-anchor="end" fill="#000">10</text>
<text x="161.9" y="232.6" font-size="5.8" text-anchor="end" fill="#000">0</text>
<text x="163.6" y="237.6" font-size="5.8" text-anchor="middle" fill="#000">0</text>
<text x="191.1" y="237.6" font-size="5.8" text-anchor="middle" fill="#000">2</text>
<text x="218.5" y="237.6" font-size="5.8" text-anchor="middle" fill="#000">4</text>
<text x="246.0" y="237.6" font-size="5.8" text-anchor="middle" fill="#000">6</text>
<text x="273.4" y="237.6" font-size="5.8" text-anchor="middle" fill="#000">8</text>
<text x="300.9" y="237.6" font-size="5.8" text-anchor="middle" fill="#000">10</text>
<text x="232.2" y="248.4" font-size="8.1" text-anchor="middle" fill="#000" stroke="#000" stroke-width="0.22">Position x (cm)</text>
<text x="0.0" y="0.0" font-size="8.2" text-anchor="middle" fill="#000" stroke="#000" stroke-width="0.22" transform="translate(153.1 75.8) rotate(-90)">Electron energy (eV)</text>
<text x="0.0" y="0.0" font-size="8.2" text-anchor="middle" fill="#000" stroke="#000" stroke-width="0.22" transform="translate(153.1 182.3) rotate(-90)">Electron energy (eV)</text>
<text x="168.8" y="40.5" font-size="8.0" text-anchor="start" fill="#fff">(a)</text>
<text x="168.8" y="147.0" font-size="8.0" text-anchor="start" fill="#fff">(b)</text>
<line x1="203.4" y1="203.0" x2="210.3" y2="217.5" stroke="#000" stroke-opacity="0.6" stroke-width="0.4"/>
<path d="M0 -2.1 L1.8 1.6 L-1.8 1.6 Z" fill="#000" transform="translate(203.4 203.0) rotate(-25)"/>
<path d="M0 -2.1 L1.8 1.6 L-1.8 1.6 Z" fill="#000" transform="translate(210.3 217.5) rotate(155)"/>
<rect x="194.8" y="206.8" width="13.6" height="6.4" fill="#fff"/>
<text x="201.6" y="211.8" font-size="5.3" text-anchor="middle" fill="#1c1038">0.017</text>
<path d="M0 -2.1 L1.8 1.6 L-1.8 1.6 Z" fill="#000" transform="translate(228.8 194.1) rotate(-55)"/>
<path d="M0 -2.1 L1.8 1.6 L-1.8 1.6 Z" fill="#000" transform="translate(236.2 199.3) rotate(125)"/>
<rect x="227.4" y="200.7" width="11.4" height="6.2" fill="#fff"/>
<text x="233.1" y="205.5" font-size="5.3" text-anchor="middle" fill="#1c1038">0.01</text>
<line x1="238.5" y1="209.5" x2="240.6" y2="214.7" stroke="#000" stroke-opacity="0.6" stroke-width="0.4"/>
<path d="M0 -2.1 L1.8 1.6 L-1.8 1.6 Z" fill="#000" transform="translate(240.6 214.7) rotate(160)"/>
<rect x="246.0" y="211.1" width="13.4" height="6.0" fill="#fff"/>
<text x="252.7" y="215.7" font-size="5.3" text-anchor="middle" fill="#1c1038">0.005</text>
</svg>
</body></html>
